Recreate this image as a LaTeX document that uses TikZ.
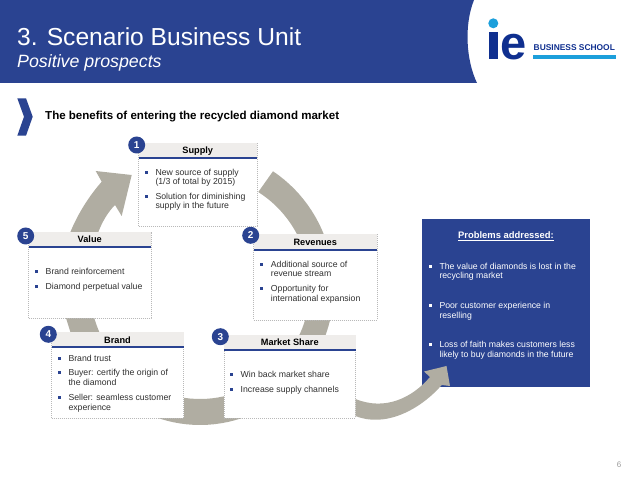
\documentclass[tikz,border=0pt]{standalone}
\usepackage{fontspec}
\setmainfont{Liberation Sans}
\definecolor{iedark}{HTML}{2A4391}
\definecolor{ielogo}{HTML}{0F2F8F}
\definecolor{iesky}{HTML}{1C9FDB}
\definecolor{ringgray}{HTML}{B0ADA2}
\definecolor{headgray}{HTML}{EFEDEB}
\definecolor{bodyink}{HTML}{303030}
\newcommand{\itm}[1][iedark]{\leavevmode\llap{\textcolor{#1}{\rule[1.5pt]{3pt}{3pt}}\hspace{8pt}}}
\tikzset{
  boxcell/.style={draw=gray!55, dash pattern=on 1pt off 1pt, line width=0.6pt, fill=white, anchor=north west, inner sep=0pt, outer sep=0pt},
  headcell/.style={fill=headgray, anchor=north west, inner sep=0pt, outer sep=0pt, text height=6.6pt, text depth=0pt, font=\fontsize{9.2}{11}\selectfont\bfseries, text=black},
  headrule/.style={draw=iedark, line width=1.1pt},
  badge/.style={circle, fill=iedark, minimum size=17pt, inner sep=0pt, text=white, font=\fontsize{10}{12}\selectfont\bfseries},
  itemtext/.style={anchor=north west, align=left, inner sep=0pt, yshift=-1pt, text=bodyink, font=\fontsize{8.7}{9.7}\selectfont},
  problemtext/.style={itemtext, text=white},
  plaintext/.style={anchor=base west, inner sep=0pt}
}
\begin{document}
\begin{tikzpicture}[x=1pt, y=-1pt]
        \useasboundingbox (0,0) rectangle (638,478);
        \fill[iedark] (0,0) -- (474,0) .. controls (464,25) and (466,60) .. (477,83) -- (0,83) -- cycle;
        \node[plaintext, text=white, font=\fontsize{24.6}{30}\selectfont] (title) at (17,45.5) {3. Scenario Business Unit};
        \node[plaintext, text=white, font=\fontsize{17.8}{22}\selectfont\itshape] (subtitle) at (17,68) {Positive prospects};

        \fill[ielogo] (489,32) rectangle (498,59);
        \fill[iesky] (493.3,23.3) circle (5);
        \node[plaintext, text=ielogo, font=\fontsize{47}{50}\selectfont\bfseries] (logoe) at (500,59.5) {e};
        \node[plaintext, text=ielogo, font=\fontsize{8.4}{10}\selectfont\bfseries] (logotext) at (533.5,51) {BUSINESS SCHOOL};
        \fill[iesky] (533,55) rectangle (616,59);

        \fill[iedark] (17.3,98.3) -- (26,98.3) -- (32.7,116.7) -- (26,135.7) -- (17.3,135.7) -- (24,116.7) -- cycle;
        \node[plaintext, text=black, font=\fontsize{11.55}{14}\selectfont\bfseries] (heading) at (45,120) {The benefits of entering the recycled diamond market};

        \fill[ringgray] plot[domain=-57:175, samples=80] ({200+134*cos(\x)},{287+138*sin(\x)})
          -- plot[domain=175:-58, samples=80] ({200+110*cos(\x)},{287+112*sin(\x)}) -- cycle;
        \fill[ringgray] (65.7,317) -- (70.7,333) -- (98,333) -- (92,317) -- cycle;
        \fill[ringgray] (70,233) .. controls (78,213) and (90,195) .. (101.7,181.7) -- (95.7,171) -- (131.7,175)
          -- (121.7,216) -- (115,205) .. controls (108,212) and (102,222) .. (98,233) -- cycle;

        \foreach \id/\bx/\by/\bw/\bh/\hh/\title/\num/\cx/\cy in {
          supply/138.5/143/118.5/83/15/Supply/1/136.7/145,
          value/28.5/232/122.5/86/15/Value/5/25.7/236,
          revenues/253.5/234.5/123.5/85.5/15.5/Revenues/2/250.7/235.3,
          brand/51.5/332.5/132/85.5/14.5/Brand/4/48.3/334.3,
          market/224/335/131.5/83/15/Market Share/3/220.3/336.7}
        {
          \node[boxcell, minimum width=\bw pt, minimum height=\bh pt] (\id) at (\bx,\by) {};
          \node[headcell, minimum width=\bw pt, minimum height=\hh pt] (\id head) at (\bx,\by) {\title};
          \draw[headrule] (\id head.south west) -- (\id head.south east);
          \node[badge] (\id badge) at (\cx,\cy) {\num};
        }

        \node[itemtext] (supplya) at (155.3,167.5) {\itm New source of supply\\(1/3 of total by 2015)};
        \node[itemtext] (supplyb) at (155.3,191.5) {\itm Solution for diminishing\\supply in the future};
        \node[itemtext] (valuea) at (45.5,267) {\itm Brand reinforcement};
        \node[itemtext] (valueb) at (45.5,282) {\itm Diamond perpetual value};
        \node[itemtext] (revenuesa) at (270.7,259.5) {\itm Additional source of\\revenue stream};
        \node[itemtext] (revenuesb) at (270.7,283.8) {\itm Opportunity for\\international expansion};
        \node[itemtext] (branda) at (68.3,353.5) {\itm Brand trust};
        \node[itemtext] (brandb) at (68.3,368.2) {\itm Buyer: certify the origin of\\the diamond};
        \node[itemtext] (brandc) at (68.3,392.8) {\itm Seller: seamless customer\\experience};
        \node[itemtext] (marketa) at (240.5,369.5) {\itm Win back market share};
        \node[itemtext] (marketb) at (240.5,384.5) {\itm Increase supply channels};

        \node[fill=iedark, anchor=north west, inner sep=0pt, outer sep=0pt, minimum width=168pt, minimum height=168pt] (problems) at (422,219) {};
        \node[text=white, inner sep=0pt, font=\fontsize{9.4}{11}\selectfont\bfseries] (problemshead) at (506,236) {\underline{Problems addressed:}};
        \node[problemtext] (problema) at (439.3,261.5) {\itm[white]The value of diamonds is lost in the\\recycling market};
        \node[problemtext] (problemb) at (439.3,300.8) {\itm[white]Poor customer experience in\\reselling};
        \node[problemtext] (problemc) at (439.3,340.1) {\itm[white]Loss of faith makes customers less\\likely to buy diamonds in the future};

        \fill[ringgray] (355.5,399) .. controls (385,411) and (412,398) .. (430,377) -- (424,371.5) -- (446.5,366)
          -- (450,386) -- (441.7,385) .. controls (420,410) and (385,428) .. (355.5,416) -- cycle;

        \node[text=gray!80, inner sep=0pt, font=\fontsize{8}{10}\selectfont] (pagenum) at (619,465) {6};
      \end{tikzpicture}
\end{document}
